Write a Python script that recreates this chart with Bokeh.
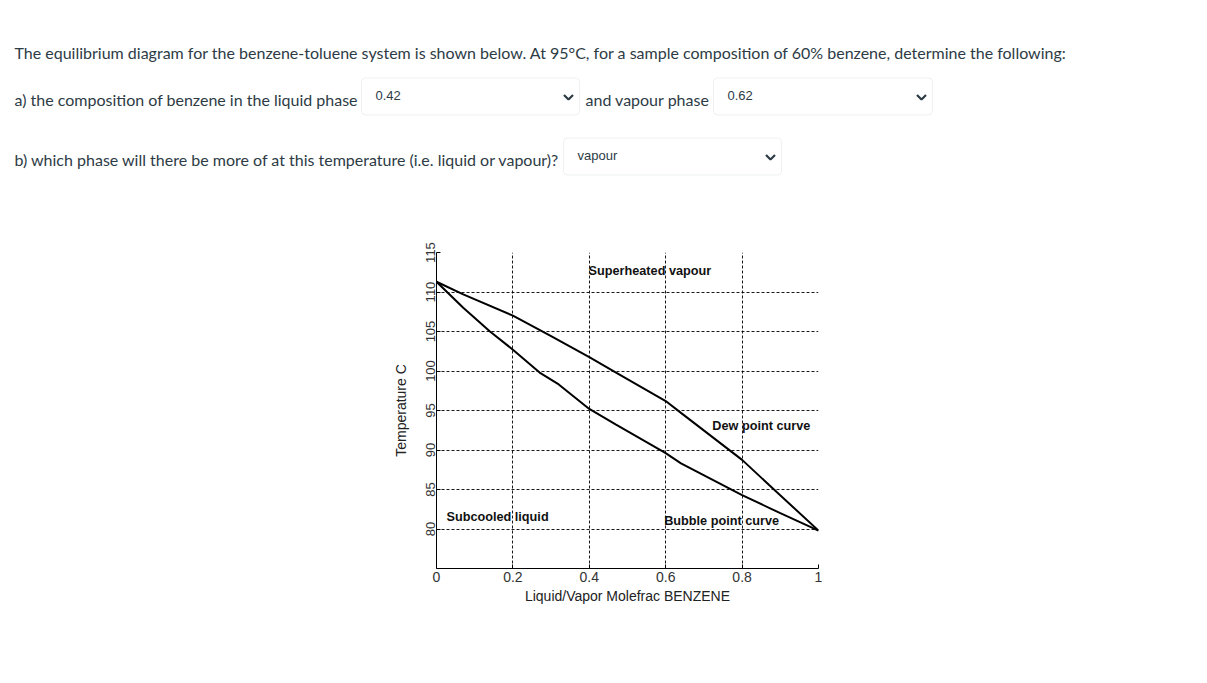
from bokeh.plotting import figure
from bokeh.layouts import column
from bokeh.models import (Range1d, Label, BoxAnnotation, FixedTicker,
                          CustomJSTickFormatter)
from bokeh.embed import file_html
from bokeh.resources import INLINE

# ---------------- data ----------------
x_bubble = [0.0, 0.07, 0.14, 0.20, 0.27, 0.32, 0.40, 0.47, 0.60, 0.64, 0.80, 0.90, 1.0]
t_bubble = [111.3, 108.0, 105.0, 102.7, 99.8, 98.3, 95.2, 93.2, 89.6, 88.3, 84.3, 82.0, 79.8]

x_dew = [0.0, 0.07, 0.20, 0.30, 0.40, 0.47, 0.60, 0.64, 0.80, 0.87, 1.0]
t_dew = [111.3, 109.7, 107.0, 104.4, 101.75, 99.8, 96.2, 94.7, 88.75, 85.6, 79.8]

x_ticks = [0, 0.2, 0.4, 0.6, 0.8, 1]
x_tick_labels = ["0", "0.2", "0.4", "0.6", "0.8", "1"]
y_ticks = [80, 85, 90, 95, 100, 105, 110, 115]

question = ("The equilibrium diagram for the benzene-toluene system is shown below. "
            "At 95\u00b0C, for a sample composition of 60% benzene, determine the following:")
part_a = "a) the composition of benzene in the liquid phase"
part_a2 = "and vapour phase"
part_b = "b) which phase will there be more of at this temperature (i.e. liquid or vapour)?"
answers = ["0.42", "0.62", "vapour"]

TXT = "#2D3B45"
PAGE_FONT = "Lato"
CHART_FONT = "Liberation Sans"

W = 1205
H = 681

# ---------------- header (page coordinates) ----------------
H_HEAD = 200
head = figure(width=W, height=H_HEAD, x_range=Range1d(0, W),
              y_range=Range1d(H_HEAD, 0), x_axis_type=None, y_axis_type=None,
              toolbar_location=None, output_backend="svg", min_border=0)
head.frame_align = False
head.outline_line_color = None
head.background_fill_color = "white"
head.border_fill_color = "white"

def txt(x, y, s, size="16px", color=TXT, font=PAGE_FONT):
    head.add_layout(Label(x=x, y=y, text=s, text_font=font, text_font_size=size,
                          text_color=color, text_baseline="middle", text_align="left"))

txt(14, 52, question)
txt(14, 99, part_a)
txt(585, 99, part_a2)
txt(14, 159, part_b)

boxes = [(361, 579, 77.5, 114.5), (713, 932, 77.5, 114.5), (563, 781, 137.5, 174.5)]
for (l, r, t, b), ans in zip(boxes, answers):
    head.add_layout(BoxAnnotation(left=l, right=r, top=t, bottom=b, fill_color="white",
                                  fill_alpha=1, line_color="#C7CDD1", line_width=1,
                                  border_radius=4, level="underlay"))
    txt(l + 14, t + 17.5, ans, size="13px", font=CHART_FONT)
    cx, cy = r - 11, t + 19.5
    head.line([cx - 4.5, cx, cx + 4.5], [cy - 2.5, cy + 2, cy - 2.5], line_width=2.2,
              line_color=TXT)

# ---------------- chart ----------------
H_CHART = H - H_HEAD
FR_L, FR_R, FR_T, FR_B = 436, 818, 252, 568
p = figure(width=W, height=H_CHART, x_range=Range1d(0, 1), y_range=Range1d(75, 115),
           toolbar_location=None, output_backend="svg",
           min_border_left=FR_L, min_border_right=W - FR_R,
           min_border_top=FR_T - H_HEAD, min_border_bottom=H - FR_B)
p.frame_align = False
p.outline_line_color = None
p.background_fill_color = "white"
p.border_fill_color = "white"

p.xaxis.ticker = FixedTicker(ticks=x_ticks)
p.xaxis.formatter = CustomJSTickFormatter(args=dict(labels=x_tick_labels),
                                          code="return labels[index]")
p.yaxis.ticker = FixedTicker(ticks=y_ticks)
p.xgrid.ticker = FixedTicker(ticks=x_ticks)
p.ygrid.ticker = FixedTicker(ticks=y_ticks)

for ax in (p.xaxis[0], p.yaxis[0]):
    ax.axis_line_color = "black"
    ax.axis_line_width = 1
    ax.major_tick_in = 4
    ax.major_tick_out = 0
    ax.major_tick_line_color = "black"
    ax.minor_tick_line_color = None
    ax.major_label_text_font = CHART_FONT
    ax.major_label_text_color = "#333333"
    ax.axis_label_text_font = CHART_FONT
    ax.axis_label_text_font_size = "14px"
    ax.axis_label_text_font_style = "normal"
    ax.axis_label_text_color = "#222222"

p.xaxis.major_label_text_font_size = "14px"
p.yaxis.major_label_text_font_size = "13px"
p.xaxis.axis_label = "Liquid/Vapor Molefrac BENZENE"
p.xaxis.major_label_standoff = 3
p.xaxis.axis_label_standoff = 3
p.yaxis.axis_label = "Temperature C"
p.yaxis.major_label_orientation = "parallel"
p.yaxis.major_label_standoff = 2
p.yaxis.axis_label_standoff = 14

for g in (p.xgrid[0], p.ygrid[0]):
    g.grid_line_color = "black"
    g.grid_line_dash = "3 2"
    g.grid_line_width = 1
    g.grid_line_alpha = 0.9

p.line(x_dew, t_dew, line_color="black", line_width=2)
p.line(x_bubble, t_bubble, line_color="black", line_width=2)

annotations = [(0.398, 112.7, "Superheated vapour"),
               (0.722, 93.1, "Dew point curve"),
               (0.026, 81.55, "Subcooled liquid"),
               (0.596, 81.0, "Bubble point curve")]
for ax_, ay_, s in annotations:
    p.add_layout(Label(x=ax_, y=ay_, text=s, text_font=CHART_FONT, text_font_size="12.7px",
                       text_font_style="bold", text_color="#111111",
                       text_baseline="middle", text_align="left"))

layout = column(head, p)
open("out.html", "w").write(file_html(layout, INLINE))
